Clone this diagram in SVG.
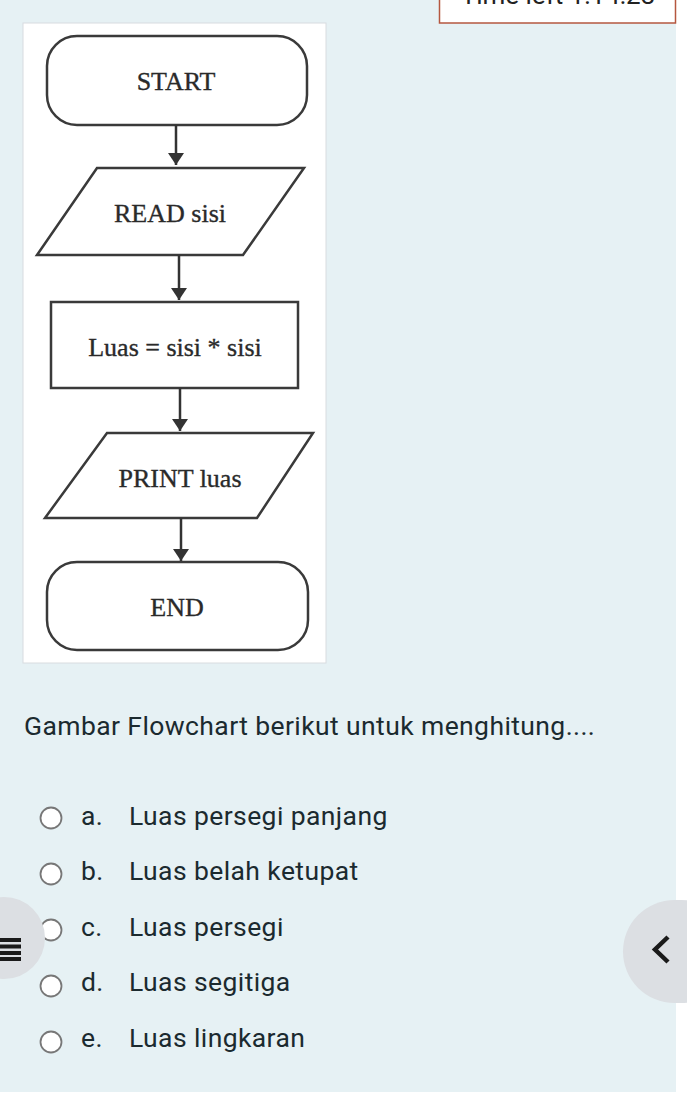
<svg xmlns="http://www.w3.org/2000/svg" width="687" height="1108" viewBox="0 0 687 1108">
<defs>
<style>
.fc{fill:#fff;stroke:#3a3a3a;stroke-width:2.5;}
.ft{font-family:"Liberation Serif","Times New Roman",serif;font-size:26px;fill:#2a2a2a;stroke:#2a2a2a;stroke-width:0.35;text-anchor:middle;}
.cn{stroke:#333;stroke-width:2.5;fill:none;}
.q{font-family:Roboto,"Noto Sans",sans-serif;font-size:26.5px;fill:#1b2a2f;letter-spacing:0.4px;}
.rb{fill:#fff;stroke:#777;stroke-width:1.8;}
</style>
<marker id="ah" viewBox="0 0 12 16" refX="12" refY="8" markerWidth="12" markerHeight="16" markerUnits="userSpaceOnUse" orient="auto">
<path d="M0,0 L12,8 L0,16 Z" fill="#333"/>
</marker>
</defs>
<rect x="0" y="0" width="687" height="1108" fill="#fff"/>
<rect x="0" y="0" width="676" height="1092" fill="#e6f1f4"/>
<g id="timer">
<rect x="439.5" y="-10" width="236" height="33" fill="#fff" stroke="#b5573f" stroke-width="1.5"/>
<text x="558" y="4" font-family="Roboto,sans-serif" font-size="26" fill="#222" text-anchor="middle">Time left 1:14:23</text>
</g>
<rect id="panel" x="23" y="23" width="303" height="640" fill="#fff" stroke="#d8dcdf" stroke-width="1"/>
<g id="start"><rect class="fc" x="47" y="36" width="260" height="89" rx="30" ry="30"/><text class="ft" x="176" y="90">START</text></g>
<g id="read"><polygon class="fc" points="97,168 304,168 243,255 37,255"/><text class="ft" x="170" y="222">READ sisi</text></g>
<g id="proc"><rect class="fc" x="51" y="302" width="247" height="86"/><text class="ft" x="175" y="356">Luas = sisi * sisi</text></g>
<g id="print"><polygon class="fc" points="107,433 313,433 257,518 45,518"/><text class="ft" x="180" y="487">PRINT luas</text></g>
<g id="end"><rect class="fc" x="47" y="562" width="261" height="88" rx="30" ry="30"/><text class="ft" x="177" y="616">END</text></g>
<g id="connectors">
<line class="cn" x1="176" y1="125" x2="176" y2="165" marker-end="url(#ah)"/>
<line class="cn" x1="179" y1="255" x2="179" y2="300" marker-end="url(#ah)"/>
<line class="cn" x1="180" y1="388" x2="180" y2="431" marker-end="url(#ah)"/>
<line class="cn" x1="181" y1="518" x2="181" y2="561" marker-end="url(#ah)"/>
</g>
<text class="q" x="24" y="735" font-size="26" letter-spacing="0.35">Gambar Flowchart berikut untuk menghitung....</text>
<g id="options">
<circle class="rb" cx="51" cy="818" r="10.5"/><text class="q" x="81" y="825">a.</text><text class="q" x="129" y="825">Luas persegi panjang</text>
<circle class="rb" cx="51" cy="874" r="10.5"/><text class="q" x="81" y="880">b.</text><text class="q" x="129" y="880">Luas belah ketupat</text>
<circle class="rb" cx="51" cy="930" r="10.5"/><text class="q" x="81" y="936">c.</text><text class="q" x="129" y="936">Luas persegi</text>
<circle class="rb" cx="51" cy="986" r="10.5"/><text class="q" x="81" y="991">d.</text><text class="q" x="129" y="991">Luas segitiga</text>
<circle class="rb" cx="51" cy="1042" r="10.5"/><text class="q" x="81" y="1047">e.</text><text class="q" x="129" y="1047">Luas lingkaran</text>
</g>
<g id="menu-btn">
<circle cx="4" cy="938" r="41" fill="#dcdfe3"/>
<rect x="0" y="938" width="21" height="4" fill="#1a1a1a"/>
<rect x="0" y="944.5" width="21" height="4" fill="#1a1a1a"/>
<rect x="0" y="951" width="21" height="4" fill="#1a1a1a"/>
<rect x="0" y="957" width="21" height="4" fill="#1a1a1a"/>
</g>
<g id="back-btn">
<rect x="623" y="900" width="110" height="103" rx="51.5" fill="#dcdfe3"/>
<polyline points="668,937 655,949.5 668,962" fill="none" stroke="#1a1a1a" stroke-width="4.5"/>
</g>
</svg>
